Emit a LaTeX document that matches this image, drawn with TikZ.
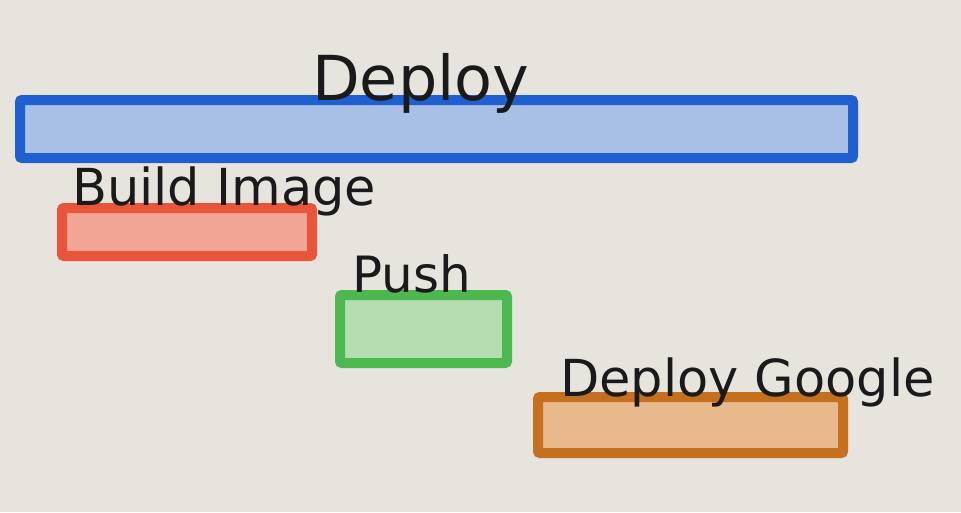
\documentclass[tikz,border=0pt]{standalone}
\usepackage{fontspec}
\setmainfont{DejaVu Sans}
\definecolor{paper}{HTML}{E7E4DD}
\definecolor{blueB}{HTML}{1F5FD0}
\definecolor{blueF}{HTML}{A9C0E6}
\definecolor{redB}{HTML}{E8553A}
\definecolor{redF}{HTML}{F2A594}
\definecolor{greenB}{HTML}{4DB84F}
\definecolor{greenF}{HTML}{B4DDB2}
\definecolor{orangeB}{HTML}{C4701E}
\definecolor{orangeF}{HTML}{E9B98E}
\definecolor{ink}{HTML}{1A1A1A}
\tikzset{
  bar/.style={draw=#1B, fill=#1F, line width=10pt, inner sep=0pt, rounded corners=2pt},
  lbl/.style={anchor=base west, inner sep=0pt, text=ink},
}
\begin{document}
\begin{tikzpicture}[x=1pt,y=-1pt]
\useasboundingbox (0,0) rectangle (961,512);
\fill[paper] (0,0) rectangle (961,512);
% bars
\node[bar=blue, minimum width=833pt, minimum height=58pt] (deploybar) at (436.5,129) {};
\node[bar=red, minimum width=250pt, minimum height=48pt] (buildbar) at (187,232) {};
\node[bar=green, minimum width=167pt, minimum height=68pt] (pushbar) at (423.5,329) {};
\node[bar=orange, minimum width=305pt, minimum height=56pt] (googlebar) at (690.5,425) {};
% labels
\node[lbl, font=\fontsize{62}{64}\selectfont] (deploylbl) at (312,100) {Deploy};
\node[lbl, font=\fontsize{51}{53}\selectfont] (buildlbl) at (72,205) {Build Image};
\node[lbl, font=\fontsize{50}{52}\selectfont] (pushlbl) at (352,292) {Push};
\node[lbl, font=\fontsize{51}{53}\selectfont] (googlelbl) at (560,396) {Deploy Google};
\end{tikzpicture}
\end{document}
